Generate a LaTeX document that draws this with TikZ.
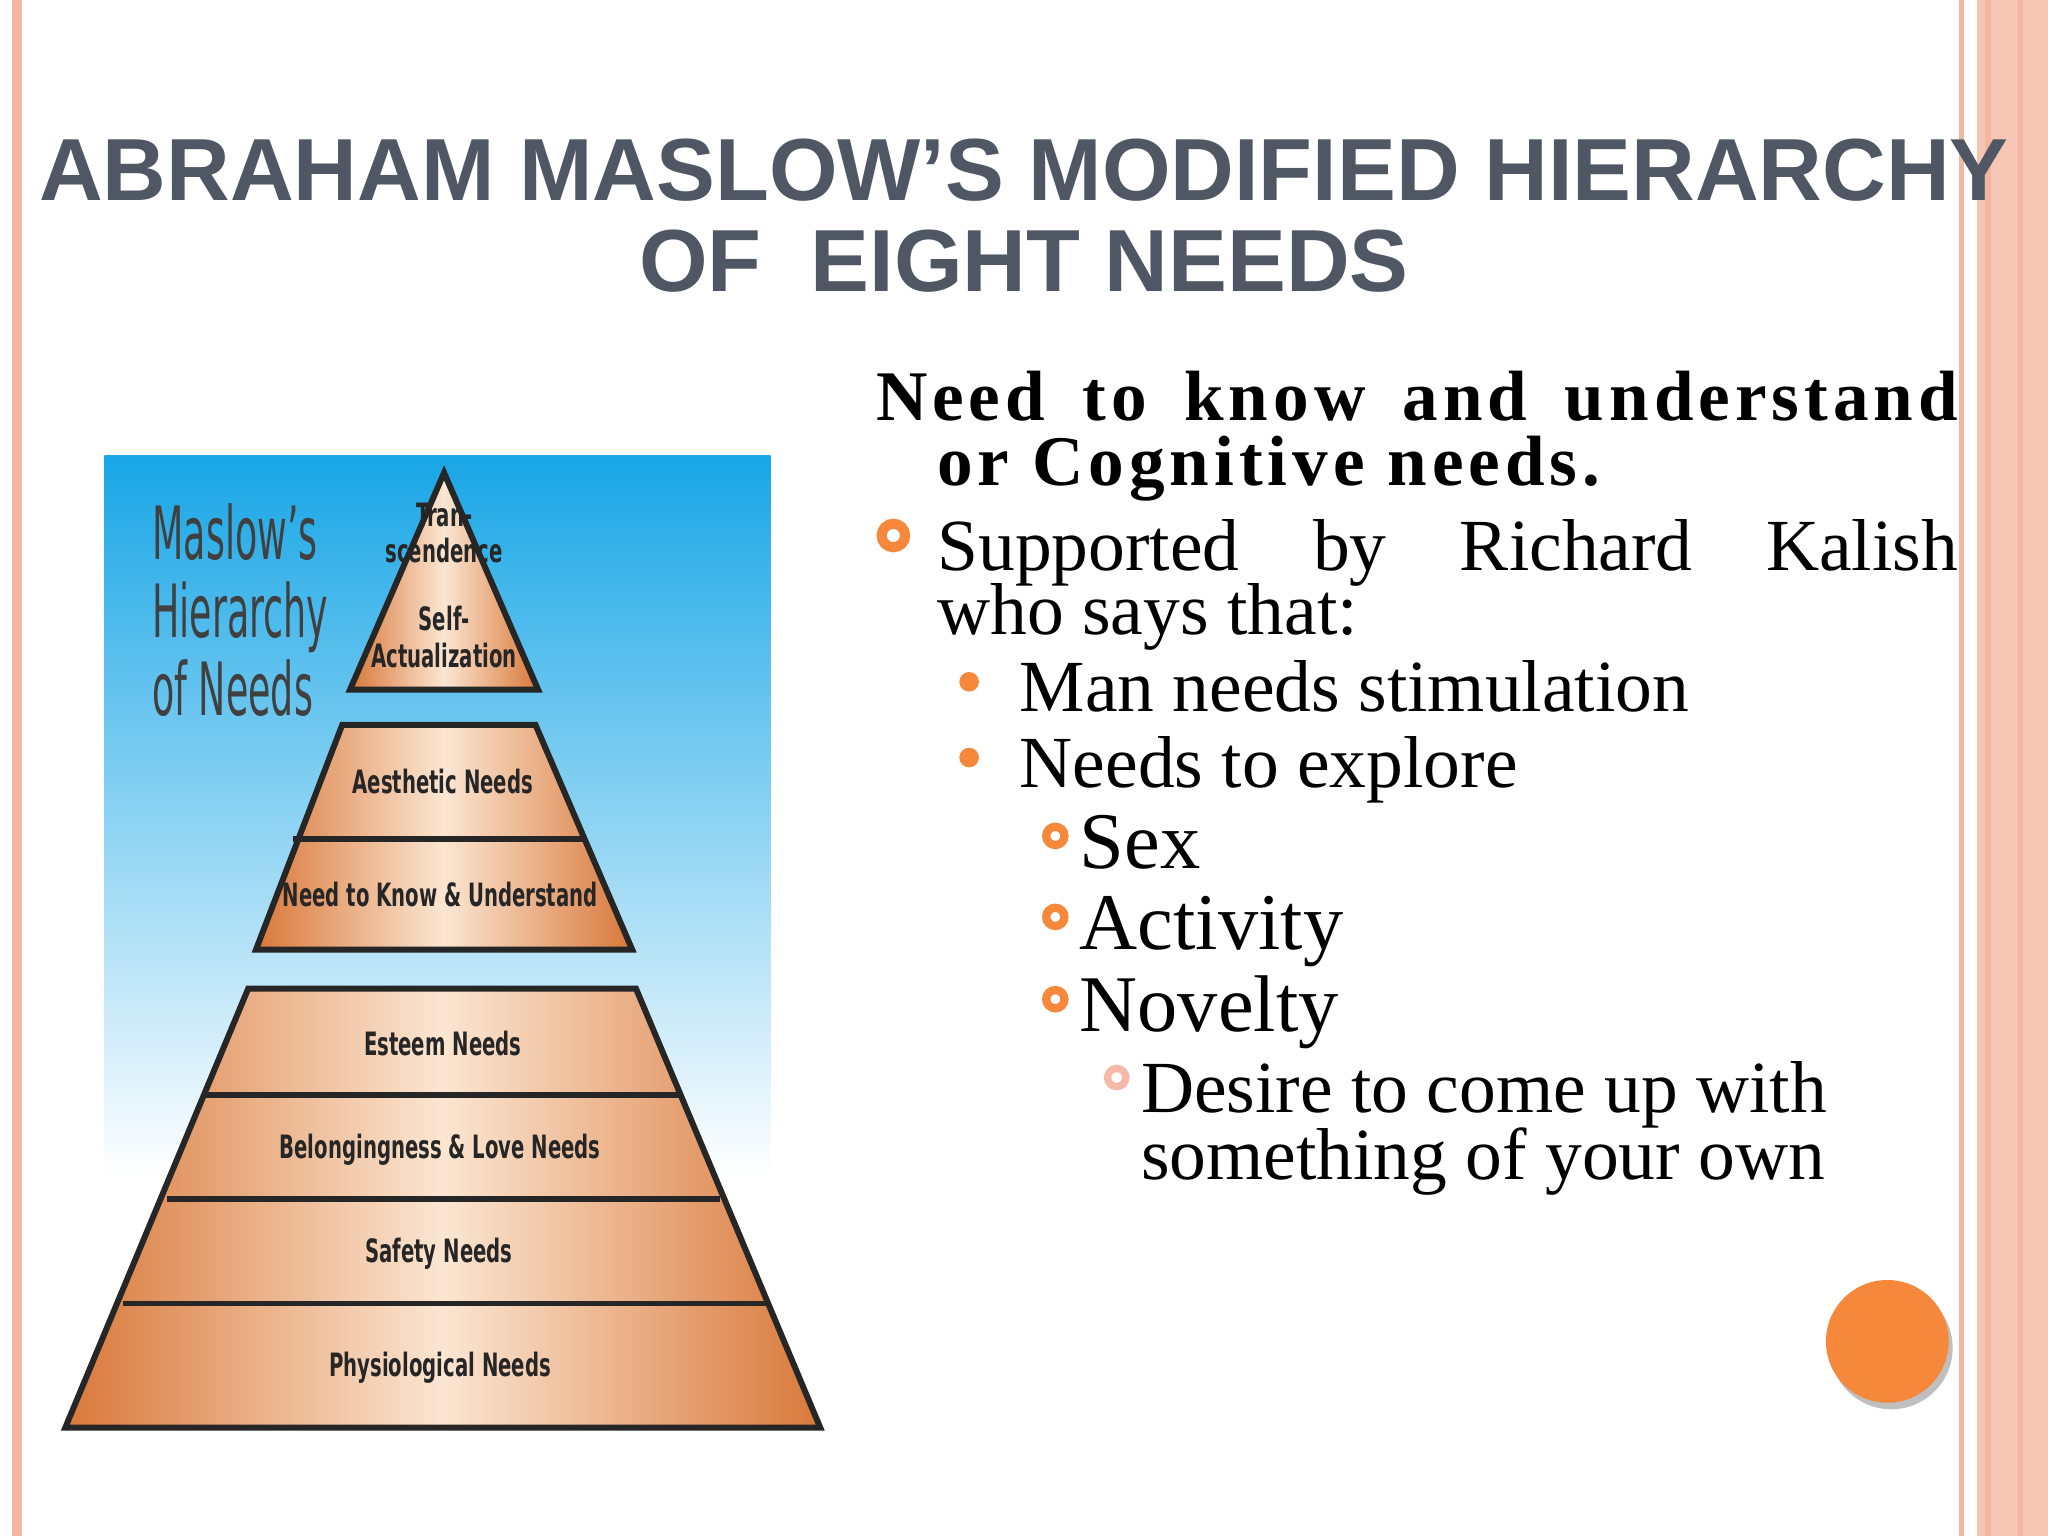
\documentclass[tikz,border=0pt]{standalone}
\usepackage{fontspec}
\setmainfont{Liberation Serif}
\newfontfamily\tfont{Liberation Sans}
\newfontfamily\pfont{DejaVu Sans Condensed}
\newfontfamily\hfont[LetterSpace=7]{Liberation Serif}
\definecolor{salm}{HTML}{F4B6A0}
\definecolor{tgray}{HTML}{4F5765}
\definecolor{orB}{HTML}{F5883A}
\definecolor{orD}{HTML}{D9783A}
\definecolor{orL}{HTML}{FBE6D2}
\definecolor{skyb}{HTML}{18A6E6}
\definecolor{pale}{HTML}{F6B8A8}
\newcommand{\cnd}[1]{\scalebox{0.68}[1]{#1}}
\tikzset{
 title/.style={font=\tfont\bfseries\fontsize{19.2}{22}\selectfont, text=tgray},
 body/.style={anchor=base west, inner sep=0pt, font=\fontsize{16}{19}\selectfont},
 big/.style={anchor=base west, inner sep=0pt, font=\fontsize{17.5}{20}\selectfont},
 head/.style={anchor=base west, inner sep=0pt, font=\hfont\bfseries\fontsize{15.5}{19}\selectfont},
 lvl/.style={font=\pfont\bfseries\fontsize{7}{8}\selectfont, text=black!85, inner sep=0pt, align=center},
 tier/.style={draw=black!85, line width=1.3pt},
 obul/.style={draw=orB, line width=2.2pt}
}
\begin{document}
\begin{tikzpicture}[x=0.01cm,y=-0.01cm]
\useasboundingbox (0,0) rectangle (1568,1176);
\fill[white] (0,0) rectangle (1568,1176);
% borders
\fill[salm] (9,0) rectangle (17,1176);
\fill[salm] (1500,0) rectangle (1504,1176);
\fill[salm!80] (1514,0) rectangle (1568,1176);
\fill[salm] (1520,0) rectangle (1524,1176);
\fill[salm] (1545,0) rectangle (1549,1176);
% title
\node[title] (t1) at (784,130) {ABRAHAM MASLOW’S MODIFIED HIERARCHY};
\node[title] (t2) at (784,200) {OF\ \ EIGHT NEEDS};
% picture background
\shade[top color=skyb, bottom color=white] (80,349) rectangle (590,900);
% top triangle
\shade[left color=orD, right color=orD, middle color=orL] (340,362) -- (412,528) -- (268,528) -- cycle;
\draw[tier] (340,362) -- (412,528) -- (268,528) -- cycle;
% middle trapezoid
\shade[left color=orD, right color=orD, middle color=orL] (262,555) -- (410,555) -- (484,727) -- (196,727) -- cycle;
\draw[tier] (262,555) -- (410,555) -- (484,727) -- (196,727) -- cycle;
\draw[tier] (224,642) -- (447,642);
% bottom trapezoid
\shade[left color=orD, right color=orD, middle color=orL] (190,757) -- (487,757) -- (628,1093) -- (50,1093) -- cycle;
\draw[tier] (190,757) -- (487,757) -- (628,1093) -- (50,1093) -- cycle;
\draw[tier] (156,838) -- (521,838);
\draw[tier] (128,918) -- (551,918);
\draw[tier] (94,998) -- (588,998);
% labels
\node[lvl] (l1) at (340,408) {\cnd{Tran-}\\\cnd{scendence}};
\node[lvl] (l2) at (340,488) {\cnd{Self-}\\\cnd{Actualization}};
\node[lvl] (l3) at (339,598) {\cnd{Aesthetic Needs}};
\node[lvl] (l4) at (337,685) {\cnd{Need to Know \& Understand}};
\node[lvl] (l5) at (339,799) {\cnd{Esteem Needs}};
\node[lvl] (l6) at (337,880) {\cnd{Belongingness \& Love Needs}};
\node[lvl] (l7) at (336,960) {\cnd{Safety Needs}};
\node[lvl] (l8) at (337,1047) {\cnd{Physiological Needs}};
\node[anchor=north west, inner sep=0pt, align=left, text=black!75, font=\pfont\fontsize{16}{17}\selectfont] (ml) at (116,385) {\scalebox{0.55}[1]{Maslow’s}\\\scalebox{0.55}[1]{Hierarchy}\\\scalebox{0.55}[1]{of Needs}};
% right text
\node[head] (h1) at (670,322) {\makebox[8.28cm][s]{Need to know and understand}};
\node[head] (h2) at (717,372) {or Cognitive needs.};
\draw[obul] (684,410) circle (9);
\node[body] (b1) at (717,437) {\makebox[7.81cm][s]{Supported by Richard Kalish}};
\node[body] (b2) at (717,486) {who says that:};
\fill[orB] (742,522) circle (7.5);
\fill[orB] (742,580) circle (7.5);
\node[body] (b3) at (780,545) {Man needs stimulation};
\node[body] (b4) at (780,603) {Needs to explore};
\draw[obul, line width=1.8pt] (808,640) circle (7);
\draw[obul, line width=1.8pt] (808,702) circle (7);
\draw[obul, line width=1.8pt] (808,765) circle (7);
\node[big] (s1) at (826,665) {Sex};
\node[big] (s2) at (826,727) {Activity};
\node[big] (s3) at (826,790) {Novelty};
\draw[pale, line width=1.6pt] (855,825) circle (7);
\node[body] (d1) at (873,852) {Desire to come up with};
\node[body] (d2) at (873,903) {something of your own};
% orange circle
\fill[black!25] (1448,1032) circle (47);
\fill[orB] (1445,1027) circle (47);
\end{tikzpicture}
\end{document}
